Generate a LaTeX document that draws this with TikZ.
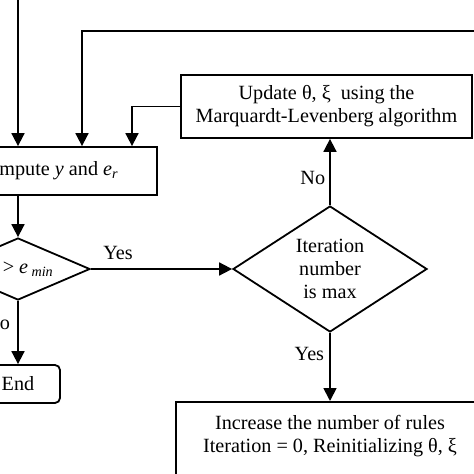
\documentclass[tikz,border=0pt]{standalone}
\usepackage{fontspec}
\setmainfont{Liberation Serif}
\usetikzlibrary{shapes.geometric,arrows.meta}
\begin{document}
\begin{tikzpicture}[x=1pt,y=-1pt,
  line width=1.8pt,
  every node/.style={font=\fontsize{20.2}{23}\selectfont},
  proc/.style={draw,rectangle,inner sep=0pt,align=center},
  decis/.style={draw,diamond,inner sep=0pt,align=center},
  term/.style={draw,rectangle,rounded corners=5pt,inner sep=0pt},
  lbl/.style={inner sep=0pt},
  arr/.style={-{Triangle[length=13pt,width=13pt]}},
]
\useasboundingbox (0,0) rectangle (474,474);
\clip (0,0) rectangle (474,474);

\node[proc, minimum width=291pt, minimum height=63pt] (upd) at (326.5,106.5)
  {Update θ, ξ\ \ using the\\Marquardt-Levenberg algorithm};
\node[proc, minimum width=220pt, minimum height=48pt] (comp) at (47,171)
  {Compute \textit{y} and \textit{e}\textsubscript{\textit{r}}};
\node[decis, shape aspect=2.32, minimum width=144pt, minimum height=62pt] (d1) at (18,269)
  {\textit{e}\textsubscript{\textit{r}} > \textit{e}\,\textsubscript{\textit{min}}};
\node[decis, shape aspect=1.54, minimum width=194pt, minimum height=126pt] (d2) at (330,269)
  {Iteration\\number\\is max};
\node[term, minimum width=84pt, minimum height=38pt] (end) at (18,384) {End};
\node[draw, rectangle, anchor=north, minimum width=308pt, minimum height=90pt] (inc) at (330,401) {};
\node[align=center, inner sep=0pt] (incT) at (330,436)
  {Increase the number of rules\\Iteration = 0, Reinitializing θ, ξ};

\coordinate (start) at (18,-30);
\coordinate (x82) at (82,0);
\coordinate (x132) at (132,0);
\coordinate (loopR) at (520,31);

\draw[arr] (start) -- (comp.north -| start);
\draw[arr] (inc.east) -| (loopR) -| (comp.north -| x82);
\draw[arr] (upd.west) -| (comp.north -| x132);
\draw[arr] (comp.south -| d1.north) -- (d1.north);
\draw[arr] (d1.east) -- (d2.west);
\draw[arr] (d1.south) -- (end.north);
\draw[arr] (d2.north) -- (d2.north |- upd.south);
\draw[arr] (d2.south) -- (d2.south |- inc.north);

\node[lbl] (y1) at (118,253) {Yes};
\node[lbl, anchor=east] (n1) at (11,323) {No};
\node[lbl, anchor=east] (n2) at (326,178) {No};
\node[lbl, anchor=east] (y2) at (325,354) {Yes};
\end{tikzpicture}
\end{document}
